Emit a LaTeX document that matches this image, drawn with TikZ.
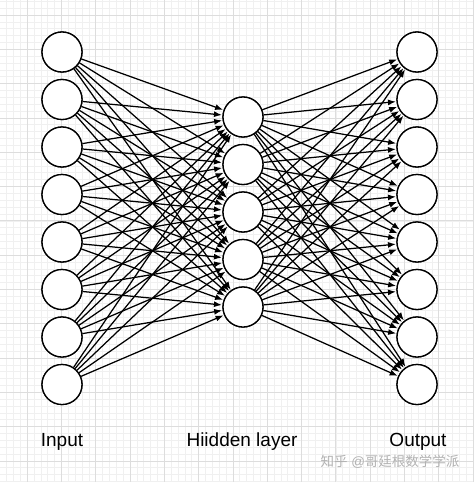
\documentclass[tikz,border=0pt]{standalone}
\usepackage{fontspec}
\setmainfont{Liberation Sans}
\newfontfamily\cjk{Noto Sans CJK SC}
\usetikzlibrary{arrows.meta}
\definecolor{minorgrid}{HTML}{F0F0F0}
\definecolor{majorgrid}{HTML}{DDDDDD}
\tikzset{
    neuron/.style={circle, draw, line width=1.3pt, fill=white, minimum size=40pt, inner sep=0pt},
    link/.style={line width=1.25pt, -{Latex[length=8pt,width=6pt]}, shorten >=0.5pt},
    layerlabel/.style={font=\fontsize{19}{22}\selectfont, inner sep=0pt}
}
\begin{document}
\begin{tikzpicture}[x=1pt, y=-1pt]
    % the frame
    \useasboundingbox (0,0) rectangle (474,482);
    \fill[white] (0,0) rectangle (474,482);
    % the grid
    \foreach \k in {0,...,70} {
        \draw[minorgrid, line width=0.6pt] ({-0.34+\k*6.86}, 0) -- ++(0, 482);
        \draw[minorgrid, line width=0.6pt] (0, {1.28+\k*6.86}) -- ++(474, 0);
    };
    \foreach \k in {0,...,14} {
        \draw[majorgrid, line width=0.8pt] ({-7.2+\k*34.3}, 0) -- ++(0, 482);
        \draw[majorgrid, line width=0.8pt] (0, {15+\k*34.3}) -- ++(474, 0);
    };
    % the layers
    \foreach \i in {1,...,8} {
        \node[neuron] (in\i) at (62, {52+(\i-1)*47.5}) {};
        \node[neuron] (out\i) at (417, {52+(\i-1)*47.5}) {};
    };
    \foreach \j in {1,...,5} {
        \node[neuron] (h\j) at (243, {117+(\j-1)*47.5}) {};
    };
    % the connections
    \foreach \i in {1,...,8} {
        \foreach \j in {1,...,5} {
            \draw[link] (in\i) -- (h\j);
            \draw[link] (h\j) -- (out\i);
        };
    };
    % redraw circles on top
    \foreach \i in {1,...,8} {
        \node[neuron] at (in\i) {};
        \node[neuron] at (out\i) {};
    };
    \foreach \j in {1,...,5} {
        \node[neuron] at (h\j) {};
    };
    % labels
    \node[layerlabel] (lblin) at (62, 442) {Input};
    \node[layerlabel] (lblh) at (242, 442) {Hiidden layer};
    \node[layerlabel] (lblout) at (418, 442) {Output};
    \node[text=black!30, font=\fontsize{13.5}{16}\selectfont, inner sep=0pt] (mark) at (390, 462) {{\cjk 知乎} @{\cjk 哥廷根数学学派}};
\end{tikzpicture}
\end{document}
